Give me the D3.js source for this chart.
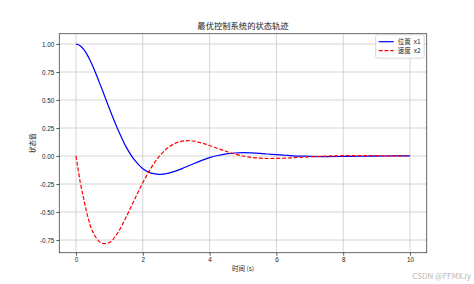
<!DOCTYPE html>
<html lang="zh">
<head>
    <meta charset="UTF-8">
    <script src="https://d3js.org/d3.v7.min.js"></script>
    <title>最优控制系统的状态轨迹</title>
    <style>
        body { margin: 0; background: #fff; }
        text { font-family: "Noto Sans CJK SC", "Liberation Sans", sans-serif; }
    </style>
</head>
<body>
<script>
    // Data
    const time = [0, 0.125, 0.25, 0.375, 0.5, 0.75, 1, 1.25, 1.5, 1.75, 2, 2.25, 2.5, 2.75, 3, 3.25, 3.5, 3.75,
        4, 4.25, 4.5, 4.75, 5, 5.25, 5.5, 5.75, 6, 6.25, 6.5, 6.75, 7, 7.5, 8, 8.5, 9, 9.5, 10];
    const position = [1.0, 0.985, 0.945, 0.882, 0.803, 0.618, 0.424, 0.24, 0.082, -0.035, -0.113, -0.153,
        -0.163, -0.155, -0.133, -0.103, -0.071, -0.041, -0.014, 0.005, 0.019, 0.027, 0.03, 0.028, 0.024,
        0.018, 0.012, 0.007, 0.002, -0.001, -0.003, -0.005, -0.004, -0.002, 0.0, 0.0006, 0.0008];
    const velocity = [0.0, -0.23, -0.41, -0.565, -0.675, -0.775, -0.772, -0.685, -0.545, -0.39, -0.238, -0.106,
        0.0, 0.073, 0.117, 0.135, 0.134, 0.118, 0.094, 0.067, 0.041, 0.018, 0.0, -0.012, -0.019, -0.022, -0.021,
        -0.019, -0.015, -0.011, -0.007, -0.001, 0.003, 0.004, 0.003, 0.001, 0.0];
    const xTicks = [0, 2, 4, 6, 8, 10];
    const yTicks = [-0.75, -0.5, -0.25, 0, 0.25, 0.5, 0.75, 1.0];
    const seriesNames = ["位置 x1", "速度 x2"];

    const W = 474, H = 284;
    const margin = {top: 33.7, right: 47.3, bottom: 31.3, left: 59.3};
    const width = W - margin.left - margin.right;
    const height = H - margin.top - margin.bottom;

    const svg = d3.select("body").append("svg")
        .attr("width", W)
        .attr("height", H);
    const g = svg.append("g")
        .attr("transform", "translate(" + margin.left + "," + margin.top + ")");

    const x = d3.scaleLinear().domain([-0.5, 10.5]).range([0, width]);
    const y = d3.scaleLinear().domain([-0.863, 1.092]).range([height, 0]);

    // Grid
    g.append("g").selectAll("line").data(xTicks).enter().append("line")
        .attr("x1", d => x(d)).attr("x2", d => x(d))
        .attr("y1", 0).attr("y2", height)
        .attr("stroke", "#cfcfcf").attr("stroke-width", 0.9);
    g.append("g").selectAll("line").data(yTicks).enter().append("line")
        .attr("y1", d => y(d)).attr("y2", d => y(d))
        .attr("x1", 0).attr("x2", width)
        .attr("stroke", "#cfcfcf").attr("stroke-width", 0.9);

    // Axes
    const xAxis = g.append("g")
        .attr("transform", "translate(0," + height + ")")
        .call(d3.axisBottom(x).tickValues(xTicks).tickFormat(d3.format("d")).tickSize(3).tickPadding(2));
    const yAxis = g.append("g")
        .call(d3.axisLeft(y).tickValues(yTicks).tickFormat(d => d3.format(".2f")(d).replace("−", "-")).tickSize(3).tickPadding(2));
    [xAxis, yAxis].forEach(a => {
        a.select(".domain").remove();
        a.selectAll("line").attr("stroke", "#333").attr("stroke-width", 0.8);
        a.selectAll("text").attr("fill", "#222").style("font-size", "6.3px")
            .style("font-family", "'Liberation Sans', sans-serif");
    });

    // Lines
    const line = (vals) => d3.line()
        .x((d, i) => x(time[i]))
        .y(d => y(d))
        .curve(d3.curveCatmullRom)(vals);

    g.append("path")
        .attr("d", line(position))
        .attr("fill", "none")
        .attr("stroke", "#0000ff")
        .attr("stroke-width", 1.2);
    g.append("path")
        .attr("d", line(velocity))
        .attr("fill", "none")
        .attr("stroke", "#ff0000")
        .attr("stroke-width", 1.2)
        .attr("stroke-dasharray", "4,1.8");

    // Frame
    g.append("rect")
        .attr("width", width).attr("height", height)
        .attr("fill", "none").attr("stroke", "#444").attr("stroke-width", 0.8);

    // Legend
    const lg = g.append("g").attr("transform", "translate(" + (width - 51) + ",1)");
    lg.append("rect")
        .attr("width", 48.5).attr("height", 23.5).attr("rx", 2)
        .attr("fill", "#fff").attr("fill-opacity", 0.85)
        .attr("stroke", "#ccc").attr("stroke-width", 0.8);
    const colors = ["#0000ff", "#ff0000"];
    seriesNames.forEach((name, i) => {
        const yy = 7 + i * 9;
        lg.append("line")
            .attr("x1", 3).attr("x2", 18).attr("y1", yy).attr("y2", yy)
            .attr("stroke", colors[i]).attr("stroke-width", 1.2)
            .attr("stroke-dasharray", i === 1 ? "4,1.8" : null);
        lg.append("text")
            .attr("x", 22).attr("y", yy).attr("dy", "0.35em")
            .style("font-size", "6.5px").attr("fill", "#222")
            .style("word-spacing", "1.5px")
            .text(name);
    });

    // Titles
    svg.append("text")
        .attr("x", margin.left + width / 2).attr("y", margin.top - 5)
        .attr("text-anchor", "middle")
        .style("font-size", "8.3px").attr("fill", "#222")
        .text("最优控制系统的状态轨迹");
    svg.append("text")
        .attr("x", margin.left + width / 2).attr("y", 270.5)
        .attr("text-anchor", "middle")
        .style("font-size", "6.5px").attr("fill", "#222")
        .text("时间 (s)");
    svg.append("text")
        .attr("transform", "translate(35," + (margin.top + height / 2) + ") rotate(-90)")
        .attr("text-anchor", "middle")
        .style("font-size", "6.5px").attr("fill", "#222")
        .text("状态值");

    // Watermark
    svg.append("text")
        .attr("x", 471).attr("y", 279)
        .attr("text-anchor", "end")
        .style("font-size", "8px").attr("fill", "#bbb")
        .text("CSDN @FFMXJy");
</script>
</body>
</html>
